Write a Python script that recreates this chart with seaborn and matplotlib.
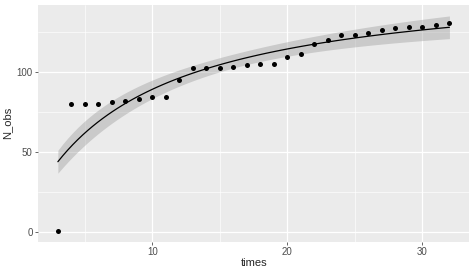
import numpy as np
import pandas as pd
import seaborn as sns
import matplotlib.pyplot as plt
from matplotlib.ticker import MultipleLocator

times = list(range(3, 33))
n_obs = [1, 80, 80, 80, 81, 82, 83, 84, 84, 95, 102, 102, 102, 103, 104,
         105, 105, 109, 111, 117, 120, 123, 123, 124, 126, 127, 128, 128, 129, 130]

df = pd.DataFrame({"times": times, "N_obs": n_obs})

# Michaelis-Menten fit N_obs ~ V * times / (K + times), least squares (Gauss-Newton)
x = df["times"].to_numpy(float)
y = df["N_obs"].to_numpy(float)
V, K = 150.0, 5.0
for _ in range(200):
    mu = V * x / (K + x)
    J = np.column_stack([x / (K + x), -V * x / (K + x) ** 2])
    step = np.linalg.lstsq(J, y - mu, rcond=None)[0]
    V, K = V + step[0], K + step[1]

mu = V * x / (K + x)
J = np.column_stack([x / (K + x), -V * x / (K + x) ** 2])
s2 = np.sum((y - mu) ** 2) / (len(y) - 2)
cov = s2 * np.linalg.inv(J.T @ J)

xg = np.linspace(x.min(), x.max(), 80)
fit = V * xg / (K + xg)
G = np.column_stack([xg / (K + xg), -V * xg / (K + xg) ** 2])
se = np.sqrt(np.einsum("ij,jk,ik->i", G, cov, G))
tcrit = 2.048  # t(0.975, 28)

sns.set_theme(style="darkgrid", rc={
    "axes.facecolor": "#EBEBEB",
    "grid.color": "white",
    "axes.edgecolor": "#EBEBEB",
    "xtick.bottom": True,
    "ytick.left": True,
    "xtick.major.size": 2.5,
    "ytick.major.size": 2.5,
    "xtick.major.width": 0.6,
    "ytick.major.width": 0.6,
})
plt.rcParams["font.family"] = ["Liberation Sans", "DejaVu Sans"]

fig = plt.figure(figsize=(4.74, 2.7), dpi=100)
ax = fig.add_axes([38.3 / 474, 1 - 241.7 / 270, (469 - 38.3) / 474, (241.7 - 5) / 270])

ax.fill_between(xg, fit - tcrit * se, fit + tcrit * se, color="#999999", alpha=0.4, lw=0, zorder=2)
ax.plot(xg, fit, color="black", lw=0.9, zorder=3)
sns.scatterplot(data=df, x="times", y="N_obs", color="black", s=13, linewidth=0, ax=ax, zorder=4)

ax.set_xlim(1.55, 33.45)
ax.set_ylim(-5.85, 141.5)
ax.xaxis.set_major_locator(MultipleLocator(10))
ax.xaxis.set_minor_locator(MultipleLocator(5))
ax.yaxis.set_major_locator(MultipleLocator(50))
ax.yaxis.set_minor_locator(MultipleLocator(25))
ax.grid(which="major", color="white", lw=0.9)
ax.grid(which="minor", color="white", lw=0.45)
ax.tick_params(which="minor", length=0)
ax.tick_params(which="major", labelsize=7, pad=1.5, colors="#4D4D4D", labelcolor="#4D4D4D")
ax.set_xlabel("times", fontsize=8, labelpad=0.5)
ax.set_ylabel("N_obs", fontsize=8, labelpad=3)
for sp in ax.spines.values():
    sp.set_visible(False)

fig.savefig("out.png", dpi=100)
